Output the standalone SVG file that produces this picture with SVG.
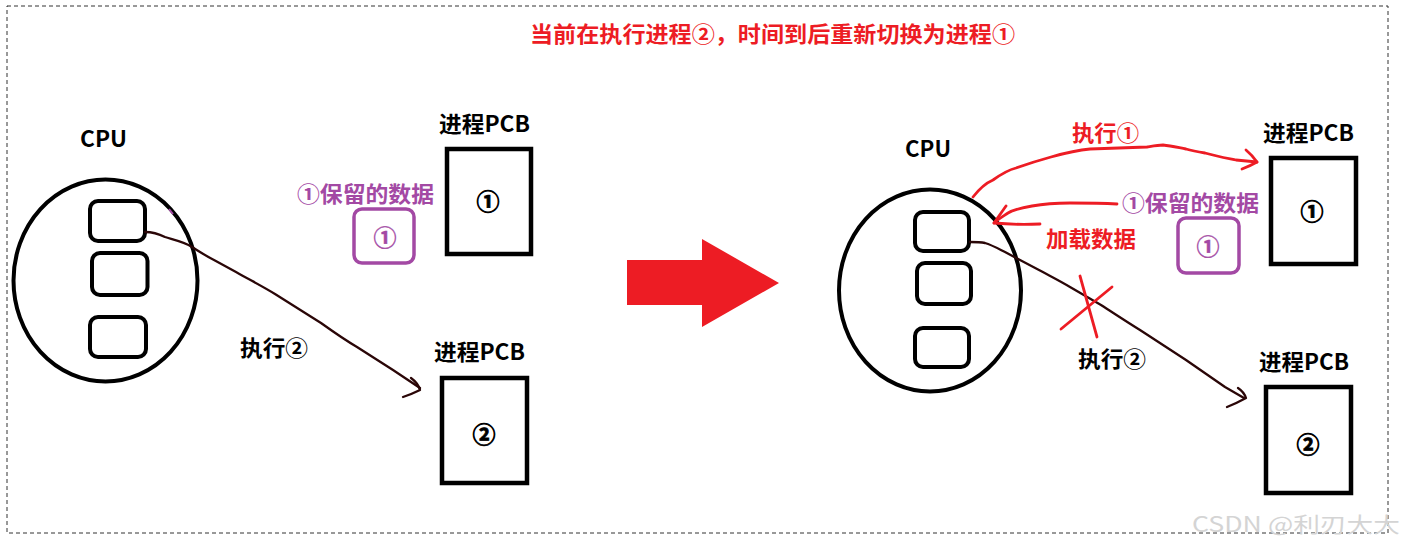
<svg xmlns="http://www.w3.org/2000/svg" width="1405" height="549" viewBox="0 0 1405 549">
<style>
  .t{font-family:"Noto Sans CJK SC","Noto Sans",sans-serif;font-weight:bold;font-size:22px;dominant-baseline:central;fill:#000}
  .num{font-family:"Noto Sans CJK SC","Noto Sans",sans-serif;font-weight:bold;font-size:23px;dominant-baseline:central;text-anchor:middle;fill:#000;stroke:#000;stroke-width:0.8}
  .pnum{font-family:"Noto Sans CJK SC","Noto Sans",sans-serif;font-weight:bold;font-size:23px;dominant-baseline:central;text-anchor:middle;fill:#a349a4;stroke:#a349a4;stroke-width:0.4}
  .red{fill:#ed1c24}
  .pur{fill:#a349a4}
  .ring{fill:none;stroke:#000;stroke-width:4}
  .reg{fill:#fff;stroke:#000;stroke-width:4}
  .box{fill:#fff;stroke:#000;stroke-width:4.5}
  .pbox{fill:none;stroke:#a349a4;stroke-width:3.5}
  .ink{fill:none;stroke:#2a0607;stroke-width:2.3;stroke-linecap:round;stroke-linejoin:round}
  .redink{fill:none;stroke:#ed1c24;stroke-width:2.8;stroke-linecap:round;stroke-linejoin:round}
  .wm{font-family:"Noto Sans CJK SC","Noto Sans",sans-serif;font-size:21px;fill:#d4d4d4;dominant-baseline:central}
</style>
<rect width="1405" height="549" fill="#fff"/>
<rect x="7" y="6" width="1381" height="527" fill="none" stroke="#333" stroke-width="1" stroke-dasharray="4 3"/>

<g id="title">
  <text class="t red" x="530" y="32" textLength="485" lengthAdjust="spacingAndGlyphs">当前在执行进程②，时间到后重新切换为进程①</text>
</g>

<!-- LEFT -->
<g id="cpu-left">
  <text class="t" x="80" y="137" textLength="47" lengthAdjust="spacingAndGlyphs">CPU</text>
  <ellipse class="ring" cx="105.5" cy="280.5" rx="92" ry="101"/>
  <rect class="reg" x="90" y="201" width="55" height="40" rx="8"/>
  <rect class="reg" x="92" y="253" width="55.5" height="42" rx="8"/>
  <rect class="reg" x="90" y="317" width="56" height="40" rx="8"/>
  <path d="M169,209 L173,214" stroke="#a349a4" stroke-width="2" fill="none"/>
</g>
<g id="pcb1-left">
  <text class="t" x="439" y="122" textLength="91" lengthAdjust="spacingAndGlyphs">进程PCB</text>
  <rect class="box" x="447" y="149" width="84" height="105"/>
  <text class="num" x="488" y="200">①</text>
</g>
<g id="saved-left">
  <text class="t pur" x="297" y="192" textLength="137" lengthAdjust="spacingAndGlyphs">①保留的数据</text>
  <rect class="pbox" x="354" y="209" width="60" height="54" rx="8"/>
  <text class="pnum" x="385" y="236">①</text>
</g>
<g id="pcb2-left">
  <text class="t" x="434" y="350" textLength="91" lengthAdjust="spacingAndGlyphs">进程PCB</text>
  <rect class="box" x="442" y="378" width="85" height="105"/>
  <text class="num" x="484" y="433">②</text>
</g>
<g id="label-left">
  <text class="t" x="240" y="346" textLength="68" lengthAdjust="spacingAndGlyphs">执行②</text>
</g>

<!-- middle arrow -->
<g id="switch-arrow">
  <polygon points="627,260 702,260 702,239 779,283 702,327 702,305 627,305" fill="#ed1c24"/>
</g>

<!-- RIGHT -->
<g id="cpu-right">
  <text class="t" x="905" y="147" textLength="46" lengthAdjust="spacingAndGlyphs">CPU</text>
  <ellipse class="ring" cx="930" cy="290.5" rx="91" ry="101"/>
  <rect class="reg" x="915" y="212" width="54" height="39" rx="8"/>
  <rect class="reg" x="917" y="263" width="54" height="41" rx="8"/>
  <rect class="reg" x="915" y="328" width="54" height="39" rx="8"/>
</g>
<g id="pcb1-right">
  <text class="t" x="1263" y="131" textLength="91" lengthAdjust="spacingAndGlyphs">进程PCB</text>
  <rect class="box" x="1271" y="158" width="85" height="106"/>
  <text class="num" x="1312" y="210">①</text>
</g>
<g id="saved-right">
  <text class="t pur" x="1122" y="201" textLength="137" lengthAdjust="spacingAndGlyphs">①保留的数据</text>
  <rect class="pbox" x="1178" y="218" width="61" height="55" rx="8"/>
  <text class="pnum" x="1208" y="245">①</text>
</g>
<g id="pcb2-right">
  <text class="t" x="1259" y="360" textLength="90" lengthAdjust="spacingAndGlyphs">进程PCB</text>
  <rect class="box" x="1266" y="387" width="85" height="106"/>
  <text class="num" x="1308" y="443">②</text>
</g>
<g id="labels-right">
  <text class="t red" x="1072" y="131" textLength="67" lengthAdjust="spacingAndGlyphs">执行①</text>
  <text class="t red" x="1046" y="237" textLength="90" lengthAdjust="spacingAndGlyphs">加载数据</text>
  <text class="t" x="1078" y="357" textLength="68" lengthAdjust="spacingAndGlyphs">执行②</text>
</g>

<g id="connectors">
  <!-- left: execute 2 -->
  <path class="ink" d="M145,232 C152,232 157,233 165,237 C175,240 185,242 192,247 C200,252 206,256 214,260 L236,272 C250,280 262,286 275,294 L321,323 C335,333 345,340 357,347 L393,370 L420,388"/>
  <path class="ink" d="M411,378 Q418,383 420,390 Q412,394 403,397"/>
  <!-- right: execute 1 (red) -->
  <path class="redink" d="M973,197 C980,188 986,183 993,180 C1000,175 1008,170 1016,168 C1030,163 1040,160 1051,157 C1065,153 1078,150 1090,149 L1147,147 C1153,146 1158,145 1163,145 C1172,146 1180,148 1186,149 C1193,151 1199,152 1205,153 C1215,156 1226,158 1236,160 L1257,162"/>
  <path class="redink" d="M1246,150 Q1252,155 1257,162 Q1250,166 1242,169"/>
  <!-- right: load data (red) -->
  <path class="redink" d="M1117,204 C1100,203 1085,203 1070,203 C1055,203 1043,204 1032,206 C1020,208 1013,210 1008,213 C1002,217 997,220 994,223"/>
  <path class="redink" d="M1006,206 L994,223 Q1015,225 1040,224"/>
  <!-- right: execute 2 (black, crossed out) -->
  <path class="ink" stroke="#111" d="M970,242 C976,242 980,242 985,243 C992,245 999,249 1005,252 L1020,260 L1039,270 C1050,276 1060,281 1070,287 L1101,305 C1115,314 1127,322 1140,330 L1186,360 L1225,387 L1244,398"/>
  <path class="ink" stroke="#111" d="M1238,388 Q1244,392 1246,398 Q1237,403 1227,407"/>
  <path class="redink" stroke-width="2.4" d="M1080,276 Q1088,305 1097,337"/>
  <path class="redink" stroke-width="2.4" d="M1112,287 Q1090,305 1061,329"/>
</g>

<g id="watermark">
  <text class="wm" x="1192" y="523" textLength="208" lengthAdjust="spacingAndGlyphs">CSDN @利刃大大</text>
</g>
</svg>
